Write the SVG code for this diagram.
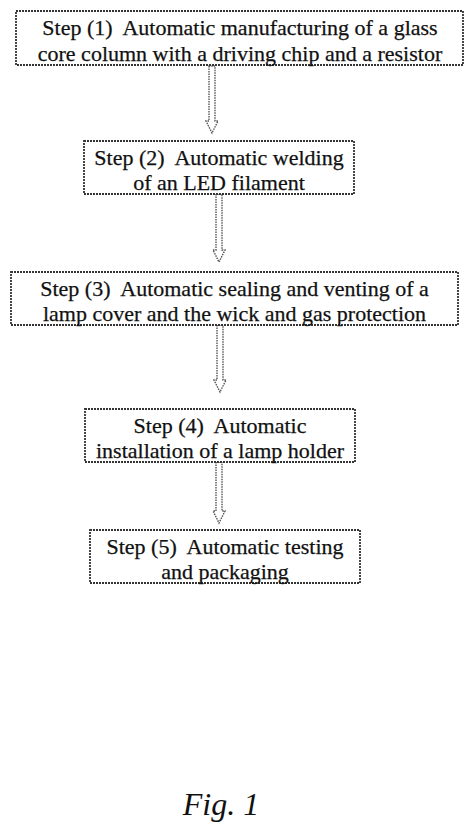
<svg xmlns="http://www.w3.org/2000/svg" width="474" height="836" viewBox="0 0 474 836">
<style>
.box{fill:#fff;stroke:#333;stroke-width:1.8;stroke-dasharray:2 1}
.t{font-family:"Liberation Serif","Times New Roman",serif;font-size:22px;fill:#111;text-anchor:middle;white-space:pre;stroke:#111;stroke-width:0.25}
.ar{fill:#fff;stroke:#555;stroke-width:1.4;stroke-dasharray:1.5 1}
.fig{font-family:"Liberation Serif","Times New Roman",serif;font-size:32px;font-style:italic;fill:#111;text-anchor:middle}
</style>
<rect width="474" height="836" fill="#fff"/>
<g id="connectors">
<path class="ar" d="M209,66 V121 H206 L212,133 L218,121 H215 V66 Z"/>
<path class="ar" d="M216,194 V250 H213 L219,262 L225,250 H222 V194 Z"/>
<path class="ar" d="M217,325 V380 H214 L220,392 L226,380 H223 V325 Z"/>
<path class="ar" d="M216,462 V511 H213 L219,523 L225,511 H222 V462 Z"/>
</g>
<g id="step1"><rect class="box" x="16" y="11" width="447" height="54"/>
<text class="t" x="240" y="35" xml:space="preserve">Step (1)  Automatic manufacturing of a glass</text>
<text class="t" x="240" y="61">core column with a driving chip and a resistor</text></g>
<g id="step2"><rect class="box" x="84" y="141" width="270" height="53"/>
<text class="t" x="219" y="165" xml:space="preserve">Step (2)  Automatic welding</text>
<text class="t" x="219" y="190">of an LED filament</text></g>
<g id="step3"><rect class="box" x="11" y="272" width="447" height="53"/>
<text class="t" x="234.5" y="296" xml:space="preserve">Step (3)  Automatic sealing and venting of a</text>
<text class="t" x="234.5" y="321">lamp cover and the wick and gas protection</text></g>
<g id="step4"><rect class="box" x="85" y="409" width="270" height="53"/>
<text class="t" x="220" y="433" xml:space="preserve">Step (4)  Automatic</text>
<text class="t" x="220" y="458">installation of a lamp holder</text></g>
<g id="step5"><rect class="box" x="90" y="530" width="270" height="53"/>
<text class="t" x="225" y="554" xml:space="preserve">Step (5)  Automatic testing</text>
<text class="t" x="225" y="579">and packaging</text></g>
<text class="fig" x="221" y="815">Fig. 1</text>
</svg>
